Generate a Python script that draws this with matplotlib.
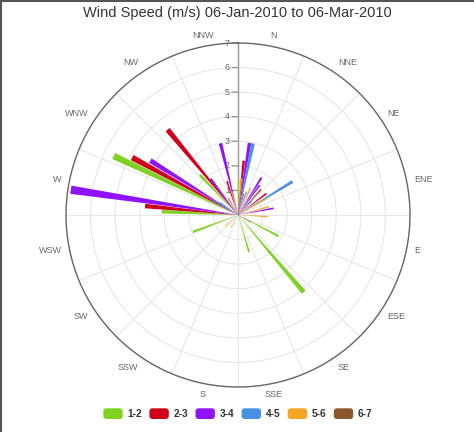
import matplotlib
matplotlib.use('Agg')
import numpy as np
import matplotlib.pyplot as plt
from matplotlib.patches import FancyBboxPatch

plt.rcParams['font.family'] = ['Liberation Sans', 'DejaVu Sans']

# ---------------- data ----------------
title = "Wind Speed (m/s) 06-Jan-2010 to 06-Mar-2010"
compass = ["N", "NNE", "NE", "ENE", "E", "ESE", "SE", "SSE",
           "S", "SSW", "SW", "WSW", "W", "WNW", "NW", "NNW"]
series_names = ["1-2", "2-3", "3-4", "4-5", "5-6", "6-7"]
series_colors = ["#7ED321", "#D0021B", "#9013FE", "#4A90E2", "#F5A623", "#8B572A"]

dir_1_2 = [295.4, 272.5, 316.5, 139.6, 117.5, 163.3, 249.5, 1.0]
val_1_2 = [5.6, 3.1, 2.25, 4.13, 1.86, 1.57, 1.96, 1.43]

dir_2_3 = [298.5, 320.5, 275.5, 342.0, 6.0, 52.9]
val_2_3 = [4.9, 4.5, 3.8, 1.45, 2.22, 1.45]

dir_3_4 = [278.6, 301.8, 323.0, 346.3, 9.1, 32.2, 36.0, 79.3]
val_3_4 = [6.88, 4.2, 1.85, 3.0, 2.97, 1.8, 1.5, 1.47]

dir_4_5 = [11.9, 58.5, 301.0, 305.0, 20.0, 45.0]
val_4_5 = [2.97, 2.6, 1.2, 0.9, 1.0, 0.8]

dir_5_6 = [5.0, 60.0, 75.0, 93.0, 345.0, 210.0, 230.0, 25.0]
val_5_6 = [1.5, 1.35, 1.3, 1.2, 1.0, 0.6, 0.7, 1.2]

dir_6_7 = [42.0, 15.0, 120.0, 330.0]
val_6_7 = [1.4, 0.9, 0.6, 0.8]

series_dirs = [dir_1_2, dir_2_3, dir_3_4, dir_4_5, dir_5_6, dir_6_7]
series_vals = [val_1_2, val_2_3, val_3_4, val_4_5, val_5_6, val_6_7]
r_max = 7

# ---------------- figure ----------------
W, H = 474, 432
fig = plt.figure(figsize=(W / 100, H / 100), dpi=100)
fig.patch.set_facecolor('white')

cx, cy, R = 238, 215, 172
ax = fig.add_axes([(cx - R) / W, (H - cy - R) / H, 2 * R / W, 2 * R / H],
                  projection='polar')
ax.set_theta_zero_location('N')
ax.set_theta_direction(-1)
ax.set_ylim(0, r_max)
ax.set_xticks(np.deg2rad(np.arange(0, 360, 22.5)))
ax.set_xticklabels([])
ax.set_yticks(range(1, r_max + 1))
ax.set_yticklabels([])
ax.grid(True, color='#e6e6e6', lw=0.8)
ax.spines['polar'].set_color('#666666')
ax.spines['polar'].set_linewidth(1.0)
ax.tick_params(axis='x', direction='out', length=4, width=0.8, color='#666666')
ax.tick_params(axis='y', length=0)
ax.set_facecolor('white')

# radial axis line with ticks and labels
ax.plot([0, 0], [0, r_max], color='#999999', lw=1.0, zorder=2.5, clip_on=False)
for r in range(1, r_max + 1):
    ax.annotate('', xy=(0, r), xytext=(-6, 0), textcoords='offset pixels',
                arrowprops=dict(arrowstyle='-', color='#999999', lw=1.0,
                                shrinkA=0, shrinkB=0), zorder=2.5)
    ax.annotate(str(r), xy=(0, r), xytext=(-8, 0), textcoords='offset pixels',
                ha='right', va='center', fontsize=6.5, color='#666666')

# compass labels (placed between gridlines, aligned by side)
lab_r = r_max * 180 / R
for i, lab in enumerate(compass):
    deg = i * 22.5 + 11.25
    s = np.sin(np.deg2rad(deg))
    c = np.cos(np.deg2rad(deg))
    if abs(s) < 0.3:
        ha = 'center'
    elif s > 0:
        ha = 'left'
    else:
        ha = 'right'
    ax.annotate(lab, xy=(np.deg2rad(deg), lab_r), xytext=(0, 3 * c),
                textcoords='offset pixels', ha=ha, va='center', fontsize=6.5,
                color='#666666', annotation_clip=False)

# bars
bw = np.deg2rad(2.8)
for dirs, vals, col in zip(series_dirs, series_vals, series_colors):
    ax.bar(np.deg2rad(dirs), vals, width=bw, bottom=0, color=col,
           edgecolor='none', zorder=3, align='center')

# ---------------- overlay (title, legend, frame) ----------------
ov = fig.add_axes([0, 0, 1, 1], facecolor='none')
ov.set_xlim(0, W)
ov.set_ylim(H, 0)
ov.axis('off')

ov.text(237.5, 12.5, title, ha='center', va='center', fontsize=10.5, color='#333333')

x0, step = 103.3, 46.1
for i, (lab, col) in enumerate(zip(series_names, series_colors)):
    xs = x0 + i * step
    ov.add_patch(FancyBboxPatch((xs, 408.3), 19.4, 10.7,
                                boxstyle='round,pad=0,rounding_size=3',
                                facecolor=col, edgecolor='none'))
    ov.text(xs + 24, 413.8, lab, ha='left', va='center', fontsize=7.3,
            fontweight='bold', color='#333333')

# dark frame on top and left edge
ov.plot([0, W], [1, 1], color='#555555', lw=1.5, solid_capstyle='butt')
ov.plot([1, 1], [0, H], color='#555555', lw=1.5, solid_capstyle='butt')

fig.savefig('out.png', dpi=100, facecolor='white')
